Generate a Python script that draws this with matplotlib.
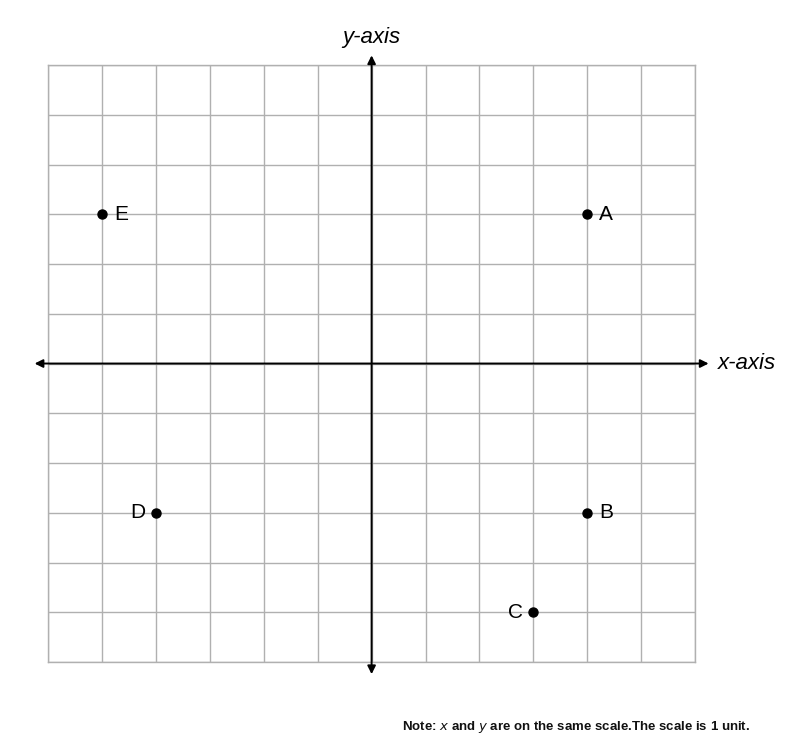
import numpy as np
import matplotlib.pyplot as plt

plt.rcParams['font.family'] = ['Liberation Sans', 'DejaVu Sans']

names = ['A', 'B', 'C', 'D', 'E']
px = [4, 4, 3, -4, -5]
py = [3, -3, -5, -3, 3]
lado = ['right', 'right', 'left', 'left', 'right']

fig = plt.figure(figsize=(8, 7.5), dpi=100)
ax = fig.add_axes([0.06, 0.1173, 0.809, 0.796])
ax.set_xlim(-6, 6)
ax.set_ylim(-6, 6)
ax.set_xticks(np.arange(-6, 7, 1))
ax.set_yticks(np.arange(-6, 7, 1))
ax.grid(True, color='#b0b0b0', linewidth=1)
ax.tick_params(length=0, labelbottom=False, labelleft=False)
for s in ax.spines.values():
    s.set_color('#b0b0b0')
    s.set_linewidth(1)

# ejes con flechas
ax.annotate('', xy=(6.3, 0), xytext=(-6.3, 0), annotation_clip=False,
            arrowprops=dict(arrowstyle='<|-|>', color='black', lw=1.4, mutation_scale=12))
ax.annotate('', xy=(0, 6.25), xytext=(0, -6.3), annotation_clip=False,
            arrowprops=dict(arrowstyle='<|-|>', color='black', lw=1.4, mutation_scale=12))
ax.text(6.42, 0, 'x-axis', fontsize=16, style='italic', va='center', ha='left', clip_on=False)
ax.text(0, 6.35, 'y-axis', fontsize=16, style='italic', va='bottom', ha='center', clip_on=False)

ax.plot(px, py, 'o', color='black', markersize=6.5, clip_on=False, zorder=5)
for i in range(len(names)):
    if lado[i] == 'right':
        ax.text(px[i] + 0.22, py[i], names[i], fontsize=15, va='center', ha='left')
    else:
        ax.text(px[i] - 0.2, py[i], names[i], fontsize=15, va='center', ha='right')

fig.text(0.503, 0.031, r'Note: $\it{x}$ and $\it{y}$ are on the same scale.The scale is 1 unit.',
         fontsize=9.5, ha='left', va='center', fontweight='bold', color='#111111')

plt.savefig('out.png')
